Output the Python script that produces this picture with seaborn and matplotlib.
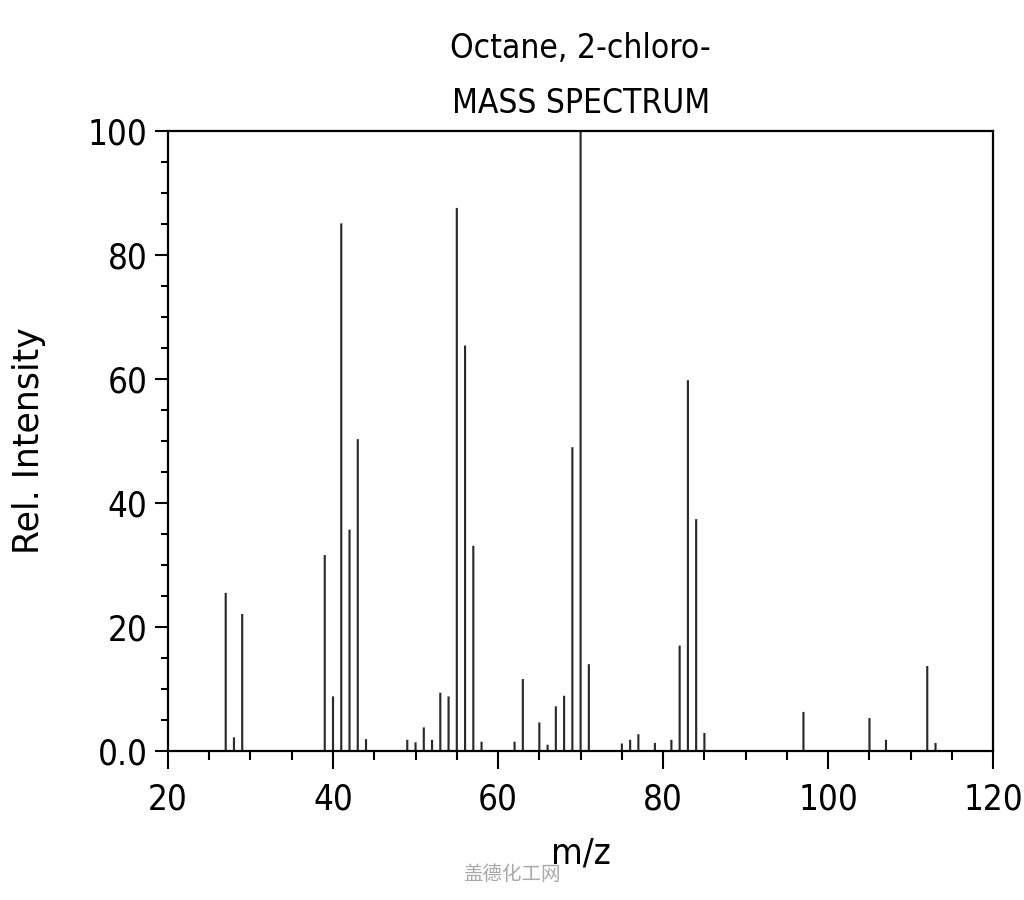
import numpy as np
import pandas as pd
import matplotlib
matplotlib.use("Agg")
import matplotlib.pyplot as plt
import seaborn as sns
from matplotlib.ticker import MultipleLocator

# ---- data ----
mz = [27, 28, 29, 39, 40, 41, 42, 43, 44, 49, 50, 51, 52, 53, 54, 55, 56, 57, 58,
      62, 63, 65, 66, 67, 68, 69, 70, 71, 75, 76, 77, 79, 81, 82, 83, 84, 85,
      97, 105, 107, 112, 113]
intensity = [25.5, 2.2, 22.1, 31.6, 8.8, 85.1, 35.7, 50.3, 1.9, 1.8, 1.4, 3.8, 1.8, 9.4, 8.8,
             87.6, 65.4, 33.1, 1.5, 1.5, 11.6, 4.6, 1.0, 7.2, 8.9, 49.0, 100.0, 14.0,
             1.2, 1.8, 2.7, 1.3, 1.8, 17.0, 59.8, 37.4, 2.9, 6.3, 5.3, 1.8, 13.7, 1.3]
title_lines = ["Octane, 2-chloro-", "MASS SPECTRUM"]
x_ticks = [20, 40, 60, 80, 100, 120]
y_ticks = [0, 20, 40, 60, 80, 100]
y_tick_labels = ["0.0", "20", "40", "60", "80", "100"]

df = pd.DataFrame({"mz": mz, "intensity": intensity})

sns.set_theme(style="ticks")
plt.rcParams["font.family"] = ["DejaVu Sans"]
plt.rcParams["text.color"] = "black"
plt.rcParams["axes.labelcolor"] = "black"
plt.rcParams["xtick.color"] = "black"
plt.rcParams["ytick.color"] = "black"

fig = plt.figure(figsize=(10.24, 9), dpi=100)
ax = fig.add_axes([0.164, 0.1656, 0.806, 0.6888])

sns.barplot(data=df, x="mz", y="intensity", native_scale=True, width=0.26,
            color="#2a2a2a", saturation=1, edgecolor="none", linewidth=0, ax=ax)
for p in ax.patches:
    p.set_snap(False)

ax.set_xlim(20, 120)
ax.set_ylim(0, 100)
ax.set_xticks(x_ticks)
ax.set_yticks(y_ticks)
ax.set_yticklabels(y_tick_labels)
ax.xaxis.set_minor_locator(MultipleLocator(5))
ax.yaxis.set_minor_locator(MultipleLocator(5))

ax.tick_params(axis="x", which="major", length=13, width=1.5, labelsize=25, pad=10, direction="out")
ax.tick_params(axis="x", which="minor", length=6.5, width=1.5, direction="out")
ax.tick_params(axis="y", which="major", length=9.5, width=1.5, labelsize=25, pad=5, direction="out")
ax.tick_params(axis="y", which="minor", length=5, width=1.5, direction="out")
ax.tick_params(top=False, right=False, which="both")
for lab in ax.get_xticklabels() + ax.get_yticklabels():
    lab.set_fontstretch("condensed")
for s in ax.spines.values():
    s.set_linewidth(1.6)
    s.set_color("black")
    s.set_visible(True)

ax.set_xlabel("m/z", fontsize=26, labelpad=14, fontstretch="condensed")
ax.set_ylabel("Rel. Intensity", fontsize=25, labelpad=30)
ax.set_title("\n".join(title_lines), fontsize=24, linespacing=1.85, pad=13,
             fontstretch="condensed")

fig.text(0.5, 0.028, "盖德化工网", ha="center", va="center", fontsize=14,
         color="#a8a8a8", family=["Noto Sans CJK SC", "DejaVu Sans"])

fig.savefig("out.png", dpi=100, facecolor="white")
